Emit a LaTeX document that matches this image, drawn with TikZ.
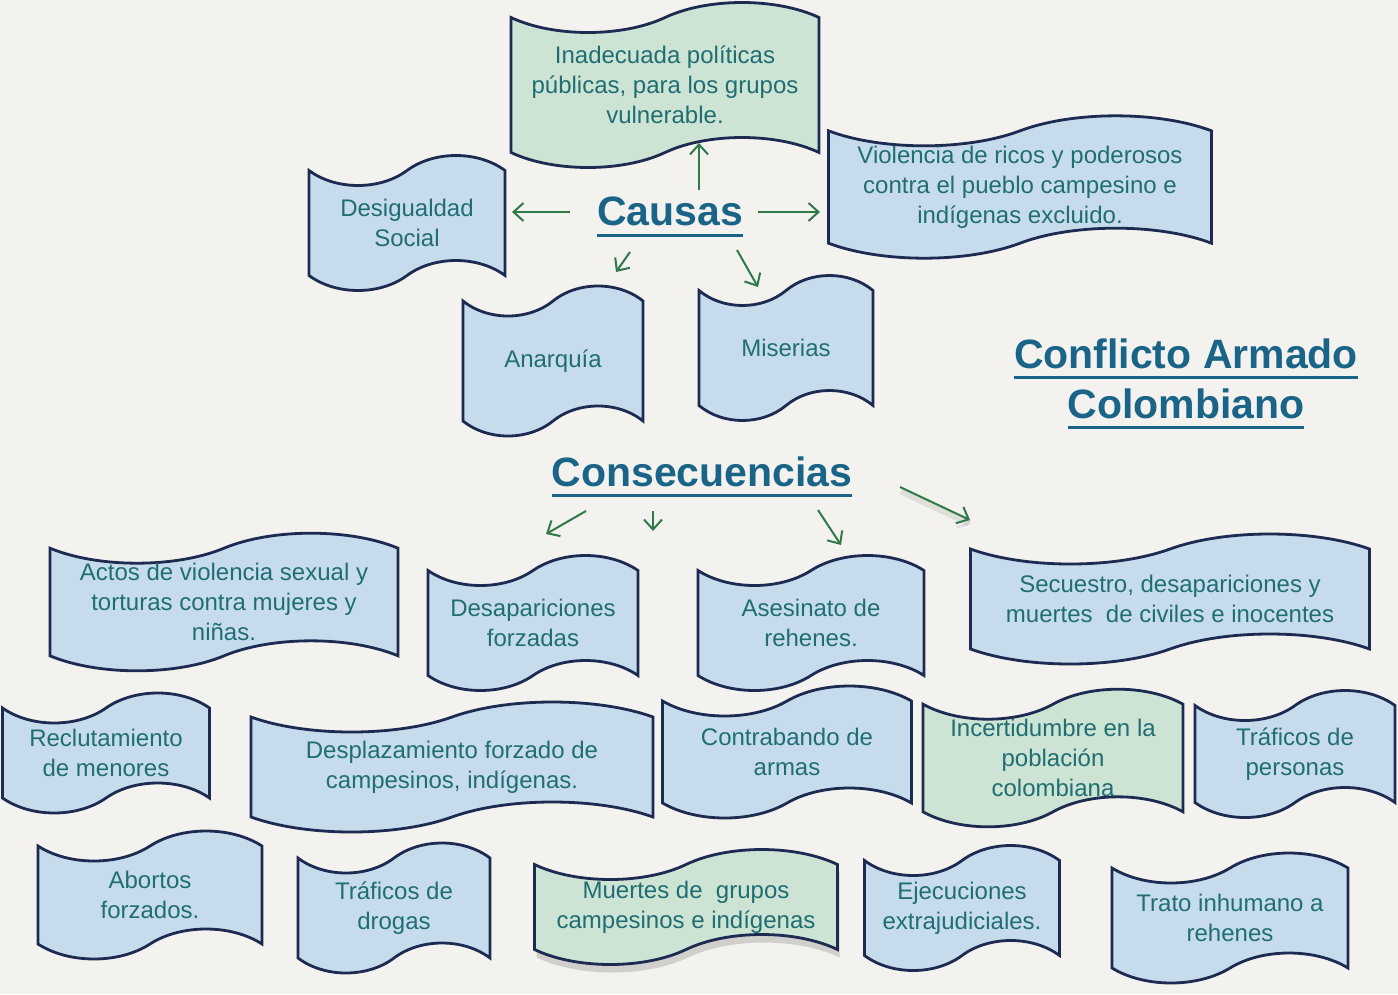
\documentclass[tikz,border=0pt]{standalone}
\usepackage{fontspec}
\setmainfont{Liberation Sans}
\usepackage{xcolor}
\usetikzlibrary{arrows.meta,shapes.symbols,shadows}

\definecolor{paper}{HTML}{F3F2EE}
\definecolor{boxblue}{HTML}{C6DCEC}
\definecolor{boxgreen}{HTML}{CDE3D3}
\definecolor{edge}{HTML}{1D2A52}
\definecolor{boxtext}{HTML}{1F6E73}
\definecolor{headtext}{HTML}{1A6488}
\definecolor{linkgreen}{HTML}{2F7A48}

% thick underline for the headings
\newcommand{\ulhead}[1]{\sbox0{#1}\rlap{\rule[-11pt]{\wd0}{3pt}}\usebox0}

\begin{document}
\begin{tikzpicture}[
    x=1pt, y=-1pt,
    banner/.style={tape, draw=edge, line width=2.8pt, fill=boxblue, text=boxtext,
        tape bend top=in and out, tape bend bottom=in and out, tape bend height=30pt,
        inner sep=0pt, align=center, font=\fontsize{24}{30}\selectfont},
    greenbanner/.style={banner, fill=boxgreen},
    head/.style={text=headtext, inner sep=0pt, align=center, font=\fontsize{41}{50}\selectfont\bfseries},
    link/.style={-{Straight Barb[length=10pt,width=18pt,line width=2pt]}, draw=linkgreen, line width=2pt}
]
\fill[paper] (0,0) rectangle (1398,994);
\useasboundingbox (0,0) rectangle (1398,994);

% causas
\node[head] (causas) at (670,217) {\ulhead{Causas}};
\node[greenbanner, minimum width=308pt, minimum height=165pt] (polit) at (665,85) {Inadecuada políticas\\públicas, para los grupos\\vulnerable.};
\node[banner, minimum width=196pt, minimum height=135pt] (desig) at (407,223) {Desigualdad\\Social};
\node[banner, minimum width=383pt, minimum height=137pt] (violen) at (1020,187) {Violencia de ricos y poderosos\\contra el pueblo campesino e\\indígenas excluido.};
\node[banner, minimum width=180pt, minimum height=150pt] (anarq) at (553,361) {Anarquía};
\node[banner, minimum width=174pt, minimum height=145pt] (miser) at (786,348) {Miserias};

\node[head] (titulo) at (1186,384) {\ulhead{Conflicto Armado}\\\ulhead{Colombiano}};

% consecuencias
\node[head] (cons) at (702,477) {\ulhead{Consecuencias}};
\node[banner, minimum width=348pt, minimum height=133pt] (actos) at (224,602) {Actos de violencia sexual y\\torturas contra mujeres y\\niñas.};
\node[banner, minimum width=210pt, minimum height=135pt] (desap) at (533,623) {Desapariciones\\forzadas};
\node[banner, minimum width=226pt, minimum height=135pt] (asesin) at (811,623) {Asesinato de\\rehenes.};
\node[banner, minimum width=399pt, minimum height=130pt] (secues) at (1170,599) {Secuestro, desapariciones y\\muertes \ de civiles e inocentes};
\node[banner, minimum width=207pt, minimum height=120pt] (reclut) at (106,753) {Reclutamiento\\de menores};
\node[banner, minimum width=402pt, minimum height=130pt] (despl) at (452,767) {Desplazamiento forzado de\\campesinos, indígenas.};
\node[banner, minimum width=249pt, minimum height=132pt] (contra) at (787,752) {Contrabando de\\armas};
\node[greenbanner, minimum width=260pt, minimum height=137pt] (incert) at (1053,758) {Incertidumbre en la\\población\\colombiana};
\node[banner, minimum width=200pt, minimum height=127pt] (trafp) at (1295,754) {Tráficos de\\personas};
\node[banner, minimum width=224pt, minimum height=128pt] (abort) at (150,895) {Abortos\\forzados.};
\node[banner, minimum width=192pt, minimum height=130pt] (trafd) at (394,908) {Tráficos de\\drogas};
\node[greenbanner, minimum width=303pt, minimum height=115pt, drop shadow={opacity=0.3, shadow xshift=2pt, shadow yshift=-8pt}] (muertes) at (686,907) {Muertes de \ grupos\\campesinos e indígenas};
\node[banner, minimum width=195pt, minimum height=125pt] (ejec) at (962,908) {Ejecuciones\\extrajudiciales.};
\node[banner, minimum width=236pt, minimum height=130pt] (trato) at (1230,918) {Trato inhumano a\\rehenes};

% arrows from the two heads
\draw[link] ([shift={(29,-27)}]causas.center) -- ([shift={(34,58)}]polit.center);
\draw[link] ([shift={(-100,-5)}]causas.center) -- ([shift={(105,-11)}]desig.center);
\draw[link] ([shift={(88,-5)}]causas.center) -- ([shift={(-200,25)}]violen.center);
\draw[link] ([shift={(-40,35)}]causas.center) -- ([shift={(63,-89)}]anarq.center);
\draw[link] ([shift={(67,33)}]causas.center) -- ([shift={(-28,-61)}]miser.center);

\draw[link] ([shift={(-116,34)}]cons.center) -- ([shift={(322,-68)}]actos.center);
\draw[link] ([shift={(-49,34)}]cons.center) -- ([shift={(120,-92)}]desap.center);
\draw[link] ([shift={(116,33)}]cons.center) -- ([shift={(30,-78)}]asesin.center);
\draw[link, preaction={draw=black, draw opacity=0.08, line width=7pt, transform canvas={shift={(1,4)}}}] ([shift={(198,10)}]cons.center) -- ([shift={(-200,-79)}]secues.center);
\end{tikzpicture}
\end{document}
